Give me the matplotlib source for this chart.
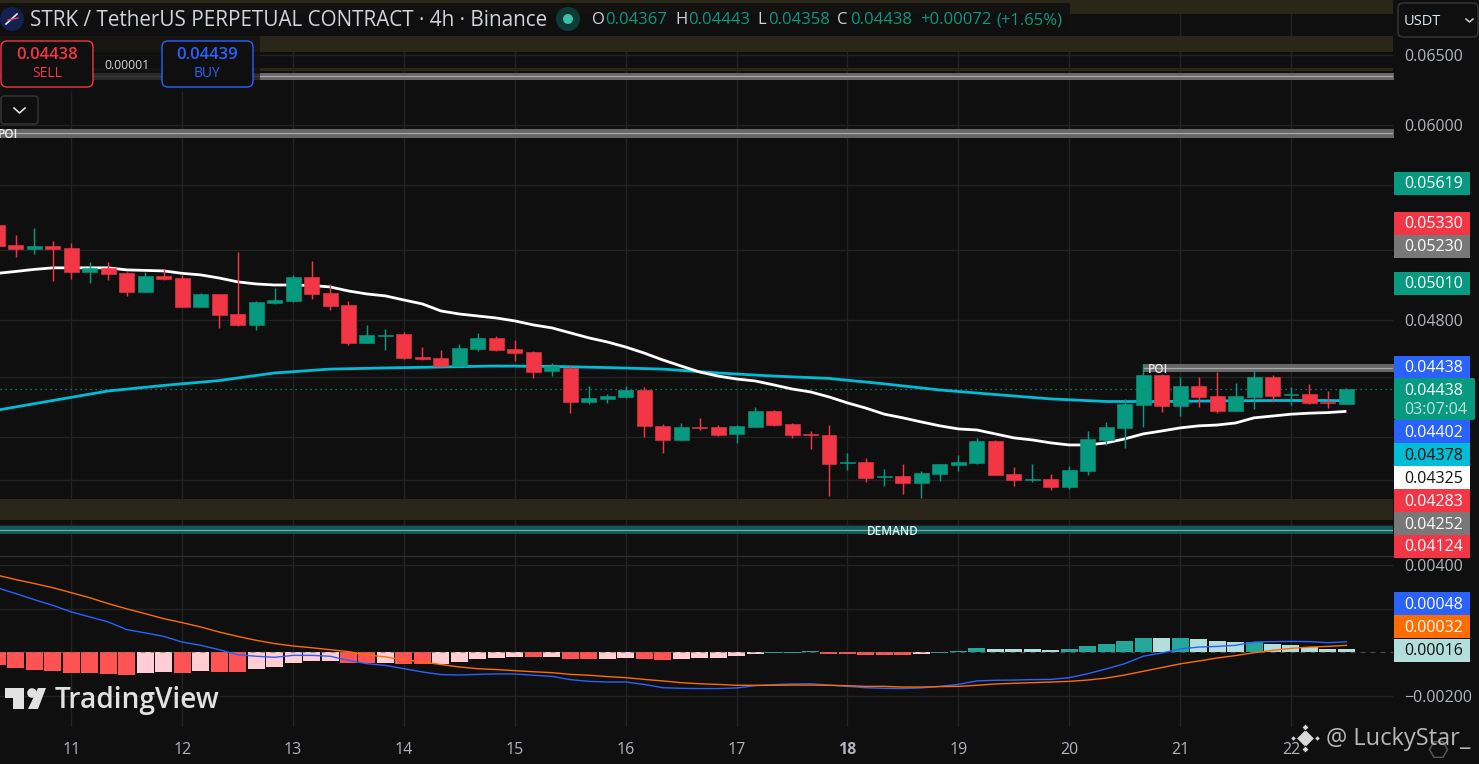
import matplotlib
matplotlib.use("Agg")
import matplotlib.pyplot as plt
from matplotlib.patches import Rectangle, FancyBboxPatch, Circle, Polygon
from matplotlib.ticker import NullLocator, NullFormatter

plt.rcParams['font.family'] = ['Open Sans', 'DejaVu Sans']

# ---------- data ----------
open_ = [.05352,.05231,.05207,.05225,.05213,.05069,.05096,.05067,.04959,.05049,
         .05037,.04875,.04946,.04834,.04776,.04897,.04908,.05043,.04952,.04884,
         .04678,.04714,.04725,.04603,.04597,.04555,.04644,.04704,.04644,.04628,
         .04529,.04545,.04372,.04387,.04397,.04432,.04254,.04186,.04249,.04249,
         .04215,.04249,.04326,.04263,.04215,.04210,.04077,.04082,.04013,.04017,
         .03985,.04026,.04068,.04077,.04181,.04026,.03999,.04003,.03967,.04040,
         .04186,.04244,.04356,.04508,.04351,.04453,.04402,.04326,.04397,.04498,
         .04407,.04412,.04372,.04362]
high = [.05352,.05291,.05333,.05255,.05243,.05130,.05130,.05074,.05074,.05088,
        .05053,.04952,.04946,.05189,.04907,.04980,.05055,.05136,.05003,.04907,
        .04774,.04752,.04736,.04655,.04639,.04671,.04731,.04714,.04693,.04634,
        .04571,.04555,.04453,.04412,.04453,.04447,.04263,.04268,.04293,.04258,
        .04258,.04346,.04331,.04268,.04229,.04258,.04124,.04100,.04049,.04072,
        .04040,.04072,.04115,.04196,.04186,.04058,.04072,.04026,.04063,.04229,
        .04273,.04387,.04566,.04513,.04498,.04498,.04524,.04468,.04539,.04508,
        .04447,.04463,.04427,.04443]
low = [.05227,.05161,.05179,.05022,.05033,.05011,.05028,.04937,.04959,.05028,
       .04875,.04875,.04759,.04770,.04749,.04891,.04902,.04919,.04858,.04667,
       .04678,.04639,.04592,.04587,.04550,.04555,.04634,.04634,.04582,.04493,
       .04503,.04316,.04362,.04367,.04392,.04200,.04124,.04186,.04234,.04205,
       .04172,.04249,.04254,.04196,.04143,.03926,.04044,.03990,.03971,.03935,
       .03918,.03994,.04040,.04072,.04021,.03971,.03990,.03953,.03958,.04021,
       .04162,.04148,.04249,.04321,.04302,.04346,.04316,.04326,.04336,.04372,
       .04356,.04362,.04341,.04362]
close = [.05227,.05207,.05225,.05207,.05069,.05096,.05063,.04959,.05049,.05033,
         .04875,.04946,.04830,.04776,.04901,.04912,.05043,.04948,.04880,.04678,
         .04720,.04720,.04597,.04592,.04555,.04650,.04704,.04639,.04623,.04524,
         .04555,.04372,.04392,.04402,.04432,.04254,.04186,.04249,.04244,.04210,
         .04254,.04326,.04258,.04210,.04210,.04072,.04082,.04008,.04017,.03985,
         .04030,.04072,.04082,.04181,.04021,.03999,.04003,.03967,.04044,.04191,
         .04249,.04362,.04508,.04351,.04453,.04397,.04326,.04402,.04498,.04402,
         .04412,.04367,.04367,.04438]
ma_short = [.05064,.05075,.05087,.05096,.05096,.05096,.05096,.05084,.05081,.05078,
            .05064,.05055,.05037,.05015,.05003,.04997,.04997,.04994,.04986,.04963,
            .04946,.04935,.04912,.04890,.04851,.04834,.04823,.04812,.04796,.04774,
            .04758,.04731,.04704,.04682,.04655,.04623,.04587,.04555,.04524,.04503,
            .04488,.04478,.04458,.04437,.04422,.04397,.04367,.04341,.04311,.04293,
            .04273,.04254,.04239,.04234,.04215,.04196,.04186,.04172,.04162,.04162,
            .04172,.04191,.04215,.04229,.04244,.04254,.04258,.04268,.04293,.04302,
            .04311,.04316,.04319,.04325]
ma_long_index = list(range(0, 73, 3)) + [73]
ma_long = [.04331,.04379,.04427,.04455,.04480,.04519,.04539,.04545,.04550,.04555,
           .04553,.04547,.04539,.04519,.04503,.04491,.04463,.04432,.04409,.04387,
           .04374,.04374,.04377,.04379,.04379,.04378]
hist = [-.00060,-.00073,-.00082,-.00087,-.00096,-.00096,-.00101,-.00105,-.00096,-.00092,
        -.00096,-.00087,-.00092,-.00092,-.00078,-.00069,-.00050,-.00041,-.00041,-.00050,
        -.00050,-.00050,-.00055,-.00055,-.00055,-.00046,-.00032,-.00027,-.00023,-.00023,
        -.00023,-.00032,-.00032,-.00032,-.00027,-.00032,-.00037,-.00032,-.00027,-.00027,
        -.00018,-.00009,-.00004,-.00004,.00005,-.00009,-.00009,-.00014,-.00014,-.00014,
        -.00009,-.00004,.00005,.00018,.00014,.00014,.00014,.00009,.00014,.00027,
        .00037,.00050,.00064,.00064,.00064,.00060,.00050,.00046,.00046,.00037,
        .00032,.00023,.00014,.00016]
# r = falling below zero, p = rising below zero, t = rising above zero, l = falling above zero
hist_kind = list("rrrrrrrrpprprr" "ppppp" "rr" "p" "rr" "p" "pppp" "r" "p" "rr" "pp" "rr"
                 "ppppp" "ttt" "rrrrr" "p" "ttt" "llll" "ttttt" "l" "t" "lll" "t" "lllll")
macd = [.00295,.00269,.00241,.00215,.00185,.00162,.00139,.00104,.00089,.00073,
        .00047,.00032,.00012,-.00011,-.00018,-.00023,-.00014,-.00014,-.00018,-.00037,
        -.00052,-.00060,-.00075,-.00090,-.00102,-.00104,-.00101,-.00099,-.00099,-.00105,
        -.00110,-.00125,-.00133,-.00136,-.00136,-.00147,-.00162,-.00165,-.00166,-.00166,
        -.00163,-.00153,-.00148,-.00145,-.00144,-.00150,-.00156,-.00162,-.00165,-.00166,
        -.00163,-.00156,-.00147,-.00131,-.00128,-.00127,-.00125,-.00124,-.00116,-.00098,
        -.00076,-.00052,-.00018,-.00003,.00015,.00024,.00027,.00032,.00047,.00049,
        .00050,.00049,.00044,.00048]
signal = [.00353,.00333,.00315,.00296,.00273,.00250,.00223,.00199,.00177,.00154,
          .00136,.00116,.00093,.00073,.00055,.00040,.00029,.00021,.00012,.00003,
          -.00012,-.00021,-.00034,-.00044,-.00056,-.00067,-.00075,-.00079,-.00084,-.00089,
          -.00093,-.00101,-.00105,-.00111,-.00116,-.00124,-.00131,-.00139,-.00144,-.00147,
          -.00151,-.00151,-.00151,-.00150,-.00150,-.00151,-.00153,-.00156,-.00156,-.00159,
          -.00159,-.00157,-.00156,-.00151,-.00145,-.00142,-.00139,-.00136,-.00133,-.00127,
          -.00118,-.00104,-.00087,-.00070,-.00053,-.00040,-.00026,-.00015,-.00002,.00009,
          .00018,.00024,.00027,.00032]
day_ticks = [4, 10, 16, 22, 28, 34, 40, 46, 52, 58, 64, 70]
day_labels = ['11', '12', '13', '14', '15', '16', '17', '18', '19', '20', '21', '22']
price_grid = [.065, .06, .056, .052, .048, .045, .042, .04, .038]
price_labels = ['0.06500', '0.06000', '', '', '0.04800', '', '', '', '']
macd_grid = [.004, .002, -.002]
macd_labels = ['0.00400', '', '\u22120.00200']
olive_zones = [(.06812, .06921), (.06522, .06643), (.06382, .06404), (.03820, .03913)]
# lower, upper, middle, first candle position
poi_zones = [(.06317, .06367, .06342, 0), (.05914, .05973, .05945, 0), (.04524, .04566, .04545, 62)]
demand_zone = (.03758, .03794, .03776)
price_tags = [(183, '0.05619', '#089981', 'white'), (223, '0.05330', '#F23645', 'white'),
              (246, '0.05230', '#787878', 'white'), (283, '0.05010', '#089981', 'white'),
              (367, '0.04438', '#2962FF', 'white'), (431.5, '0.04402', '#2962FF', 'white'),
              (454.5, '0.04378', '#00BCD4', '#111111'), (477.5, '0.04325', '#FFFFFF', '#111111'),
              (500.5, '0.04283', '#F23645', 'white'), (523.5, '0.04252', '#787878', 'white'),
              (546, '0.04124', '#F23645', 'white'),
              (603.5, '0.00048', '#2962FF', 'white'), (626.5, '0.00032', '#FF6D00', 'white'),
              (650, '0.00016', '#B2DFDB', '#111111')]

# ---------- styles ----------
BG = '#0F0F0F'
GRID = '#232323'
GREEN = '#089981'
RED = '#F23645'
OLIVE = '#2A2618'
W, H = 1479, 764
fig = plt.figure(figsize=(W / 100, H / 100), dpi=100, facecolor=BG)
ax = fig.add_axes([0, 1 - 556 / H, 1393 / W, 556 / H], facecolor=BG)
ax2 = fig.add_axes([0, (H - 727) / H, 1393 / W, 171 / H], facecolor=BG)
for a in (ax, ax2):
    a.set_xlim(0.142, 75.52)
    for s in a.spines.values():
        s.set_visible(False)
    a.set_axisbelow(True)
    a.grid(True, color=GRID, lw=1)
    a.set_xticks(day_ticks)
    a.yaxis.tick_right()
    a.tick_params(length=0, colors='#B2B5BE', labelsize=11.5, pad=8)

xs = list(range(len(close)))
ax.set_yscale('log')
ax.set_ylim(.03666, .06921)
ax.yaxis.set_minor_locator(NullLocator())
ax.yaxis.set_minor_formatter(NullFormatter())
ax.set_yticks(price_grid, price_labels)
ax.set_xticklabels([])

for lo, hi in olive_zones:
    ax.axhspan(lo, hi, color=OLIVE, lw=0, zorder=1)
for lo, hi, mid, start in poi_zones:
    ax.fill_between([start, 80], lo, hi, color='#666666', lw=0, zorder=1.2)
    ax.plot([start, 80], [mid, mid], color='#A8A8A8', lw=0.9, zorder=1.3)
ax.axhspan(demand_zone[0], demand_zone[1], color='#0F5A58', lw=0, zorder=1.2)
ax.axhline(demand_zone[2], color='#78AAA8', lw=0.9, zorder=1.3)

ax.axhline(close[-1], color=GREEN, lw=0.9, ls=(0, (1, 3)), zorder=1.5)
ax.plot(ma_long_index, ma_long, color='#00BCD4', lw=2.0, zorder=2, solid_capstyle='butt')
ax.plot(xs, ma_short, color='#FFFFFF', lw=2.0, zorder=2.1, solid_capstyle='butt')
colors = [GREEN if c >= o else RED for o, c in zip(open_, close)]
ax.vlines(xs, low, high, colors=colors, lw=1.05, zorder=3)
ax.bar(xs, [abs(c - o) for o, c in zip(open_, close)], bottom=[min(o, c) for o, c in zip(open_, close)],
       width=0.81, color=colors, edgecolor=colors, lw=0.4, zorder=3.1)

ax2.set_ylim(-.00342, .00441)
ax2.set_yticks(macd_grid, macd_labels)
ax2.set_xticklabels(day_labels)
ax2.tick_params(axis='x', pad=10.5)
for lab, txt in zip(ax2.get_xticklabels(), day_labels):
    if txt == '18':
        lab.set_fontweight('bold')
palette = {'r': '#FF5252', 'p': '#FFCDD2', 't': '#26A69A', 'l': '#B2DFDB'}
ax2.bar(xs, hist, width=0.92, color=[palette[k] for k in hist_kind], lw=0, zorder=2)
ax2.axhline(0, color='#6A7472', lw=0.9, ls=(0, (4, 4)), alpha=0.6, zorder=2.2)
ax2.plot(xs, macd, color='#2962FF', lw=1.0, zorder=3)
ax2.plot(xs, signal, color='#FF6D00', lw=1.0, zorder=3.1)

# ---------- interface layer, in picture pixels ----------
ui = fig.add_axes([0, 0, 1, 1], facecolor='none')
ui.set_xlim(0, W)
ui.set_ylim(H, 0)
ui.axis('off')
DY = 1.3  # text sits slightly high with va='center'
def label(x, y, s, **kw):
    kw.setdefault('va', 'center')
    kw.setdefault('ha', 'left')
    ui.text(x, y + DY, s, **kw)

ui.plot([0, 1393], [556, 556], color='#2E2E2E', lw=1)
ui.add_patch(Rectangle((0, 3), 1070, 33, color='#0F0F0F', alpha=0.85, lw=0))
ui.add_patch(Rectangle((0, 14), 1070, 22, color='#0F0F0F', lw=0))
ui.add_patch(Rectangle((0, 36), 260, 56, color='#0F0F0F', alpha=0.7, lw=0))

ui.add_patch(Circle((12, 19), 12, color='#14204E', lw=0))
ui.plot([6, 17], [24, 14], color='#E8E8F0', lw=1.2)
ui.plot([8, 18], [20, 18], color='#E0455A', lw=1.0)
label(30, 19, 'STRK / TetherUS PERPETUAL CONTRACT \u00b7 4h \u00b7 Binance', color='#D1D4DC', fontsize=14.9)
ui.add_patch(Circle((568, 19), 12, color='#0F3B37', lw=0))
ui.add_patch(Circle((568, 19), 5, color='#3FBFA8', lw=0))
for x, s, c in [(592, 'O', '#D1D4DC'), (605, '0.04367', GREEN), (675, 'H', '#D1D4DC'), (688, '0.04443', GREEN),
                (757, 'L', '#D1D4DC'), (768, '0.04358', GREEN), (837, 'C', '#D1D4DC'), (850, '0.04438', GREEN),
                (920, '+0.00072', GREEN), (996, '(+1.65%)', GREEN)]:
    label(x, 19, s, color=c, fontsize=12)

def box(x0, y0, x1, y1, ec, fc='#0F0F0F', r=6, lw=1.0):
    ui.add_patch(FancyBboxPatch((x0 + r, y0 + r), x1 - x0 - 2 * r, y1 - y0 - 2 * r,
                                boxstyle=f'round,pad={r},rounding_size={r}', ec=ec, fc=fc, lw=lw))

box(1, 41, 93, 87, '#F23645')
label(47, 54, '0.04438', color='#F23645', fontsize=12, fontweight='semibold', ha='center')
label(47, 72, 'SELL', color='#F23645', fontsize=10, ha='center')
box(162, 41, 253, 87, '#2962FF')
label(207, 54, '0.04439', color='#2962FF', fontsize=12, fontweight='semibold', ha='center')
label(207, 72, 'BUY', color='#2962FF', fontsize=10, ha='center')
label(127, 64, '0.00001', color='#D8D8D8', fontsize=8.8, ha='center')
box(1, 96, 38, 124, '#363636', r=3)
ui.plot([14, 19.5, 25], [108, 113, 108], color='#E0E0E0', lw=1.2)

label(-2, 133, 'POI', color='#F0F0F0', fontsize=8.5, fontweight='semibold')
label(1158, 368, 'POI', color='#E6E6E6', fontsize=8.5, ha='center', fontweight='semibold')
label(893, 530, 'DEMAND', color='#E8EFEF', fontsize=8.5, ha='center', fontweight='semibold')

box(1398, 3, 1478, 37, '#3A3A3A', r=5)
label(1404, 20, 'USDT', color='#D9E8F5', fontsize=10.5)
ui.plot([1466, 1469.5, 1473], [19, 22, 19], color='#D0D0D0', lw=1.1)

for yc, s, fc, fg in price_tags:
    ui.add_patch(Rectangle((1394, yc - 11.5), 76, 23, color=fc, lw=0))
    label(1404, yc, s, color=fg, fontsize=11.5, fontweight='medium')
ui.add_patch(FancyBboxPatch((1396, 380), 77, 38, boxstyle='round,pad=2,rounding_size=2', fc=GREEN, ec='none'))
label(1404, 390, '0.04438', color='white', fontsize=11.5, fontweight='medium')
label(1404, 409, '03:07:04', color='#BFE3DC', fontsize=11.5)

# TradingView mark
logo = '#E2E2E2'
ui.add_patch(Polygon([(5, 688), (24, 688), (24, 709), (13, 709), (13, 698), (5, 698)], closed=True, color=logo, lw=0))
ui.add_patch(Circle((32, 693), 4.8, color=logo, lw=0))
ui.add_patch(Polygon([(28, 709), (38, 709), (46, 688), (38, 688)], closed=True, color=logo, lw=0))
label(55, 699, 'TradingView', color=logo, fontsize=20.2, fontweight='semibold')

# watermark
for (x, y, ms) in [(1305, 738, 13), (1293, 738, 4), (1317, 738, 4), (1305, 727, 5), (1305, 749, 5)]:
    ui.plot([x], [y], marker='D', ms=ms * 0.72, color='#D8D8D8', mec='#0F0F0F', mew=0.6)
label(1326, 738, '@ LuckyStar_', color='#B8B8B8', fontsize=17)
ui.plot([1438], [749], marker='H', ms=13, mfc='none', mec='#5A5A5A', mew=1)

fig.savefig('out.png', dpi=100, facecolor=BG)
